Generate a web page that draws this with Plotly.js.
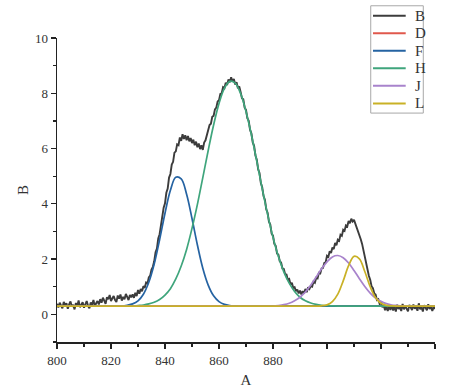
<!DOCTYPE html>
<html>
<head>
<meta charset="utf-8">
<script src="https://cdn.plot.ly/plotly-3.0.1.min.js"></script>
<style>html,body{margin:0;padding:0;background:#fff;}#chart{width:474px;height:389px;}</style>
</head>
<body>
<div id="chart"></div>
<script>
// Measured series B (step 0.5 from 800 to 940)
const bStart = 800, bStep = 0.5;
const seriesB = [
0.38,0.25,0.42,0.30,0.22,0.45,0.33,0.40,0.20,0.36,
0.47,0.28,0.35,0.18,0.41,0.30,0.50,0.26,0.38,0.44,
0.24,0.36,0.48,0.31,0.22,0.43,0.35,0.52,0.29,0.40,
0.48,0.36,0.55,0.42,0.60,0.50,0.38,0.62,0.55,0.70,
0.48,0.58,0.66,0.52,0.45,0.68,0.57,0.72,0.50,0.63,
0.55,0.74,0.60,0.52,0.70,0.62,
0.72,0.60,0.78,0.66,0.88,0.75,0.92,0.84,1.02,0.96,1.15,1.12,1.34,1.40,1.62,1.72,
1.92,2.25,2.38,2.75,2.90,3.28,3.45,3.86,4.02,4.40,4.55,4.95,5.08,5.42,5.52,5.85,
5.90,6.15,6.12,6.40,6.28,6.52,6.35,6.48,6.30,6.45,6.26,6.38,6.20,6.32,6.12,6.25,
6.05,6.18,5.98,6.12,5.95,6.22,6.30,6.48,6.62,6.85,6.90,7.15,7.18,7.42,7.48,7.70,
7.75,7.98,8.00,8.22,8.18,8.38,8.30,8.50,8.40,8.58,8.42,8.52,8.32,8.40,8.18,8.25,
8.05,7.82,7.78,7.48,7.40,7.10,7.00,6.68,6.55,6.22,6.10,5.75,5.60,5.25,5.12,4.75,
4.60,4.28,4.15,3.80,3.68,3.35,3.25,2.92,2.85,2.55,2.48,2.20,2.16,1.92,1.88,1.66,
1.64,1.45,1.44,1.25,1.28,1.08,1.14,0.95,0.98,0.84,0.90,0.76,0.86,0.72,0.84,0.76,
0.92,0.80,0.98,0.92,1.02,1.00,1.18,1.14,1.32,1.30,1.50,1.48,1.66,1.68,1.86,1.88,
2.12,2.08,2.28,2.22,2.42,2.36,2.58,2.50,2.70,2.66,2.88,2.84,3.06,3.02,3.22,3.18,
3.38,3.30,3.46,3.36,3.42,3.28,3.20,3.05,2.90,2.72,2.55,2.30,2.12,1.85,1.62,1.40,
1.25,1.02,0.95,0.76,0.72,0.52,0.55,0.38,0.42,0.26,0.33,0.15,0.28,0.12,0.30,0.16,
0.32,0.14,0.28,0.10,0.35,0.20,0.26,0.12,0.38,0.18,
0.30,0.22,0.11,0.34,0.25,0.16,0.36,0.20,0.28,0.13,
0.40,0.18,0.27,0.10,0.33,0.22,0.15,0.37,0.19,0.30,
0.12,0.26,0.20
];

// Fitted components (step 2 from 800 to 940)
const fStart = 800, fStep = 2;
const seriesD = [
0.30,0.30,0.30,0.30,0.30,0.30,0.30,0.30,0.30,0.30,0.30,0.30,0.30,0.30,0.30,0.30,0.30,0.30,0.30,0.30,
0.30,0.30,0.30,0.30,0.30,0.30,0.30,0.30,0.30,0.30,0.30,0.30,0.30,0.30,0.30,0.30,0.30,0.30,0.30,0.30,
0.30,0.30,0.30,0.30,0.30,0.30,0.30,0.30,0.30,0.30,0.30,0.30,0.30,0.30,0.30,0.30,0.30,0.30,0.30,0.30,
0.30,0.30,0.30,0.30,0.30,0.30,0.30,0.30,0.30,0.30,0.30
];
const seriesF = [
0.30,0.30,0.30,0.30,0.30,0.30,0.30,0.30,0.30,0.30,0.30,0.30,0.30,
0.33,0.38,0.49,0.73,1.16,1.82,2.70,3.66,4.49,4.96,4.90,4.35,3.47,2.51,1.67,1.06,0.67,0.46,0.36,0.32,0.31,
0.30,0.30,0.30,0.30,0.30,0.30,0.30,0.30,0.30,0.30,0.30,0.30,0.30,0.30,0.30,0.30,0.30,0.30,0.30,
0.30,0.30,0.30,0.30,0.30,0.30,0.30,0.30,0.30,0.30,0.30,0.30,0.30,0.30,0.30,0.30,0.30,0.30
];
const seriesH = [
0.30,0.30,0.30,0.30,0.30,0.30,0.30,0.30,0.30,0.30,0.30,0.30,0.30,0.30,0.30,
0.32,0.34,0.38,0.44,0.54,0.70,0.93,1.28,1.75,2.35,3.11,3.98,4.95,5.93,6.85,7.63,8.18,8.43,8.37,7.99,
7.34,6.50,5.54,4.55,3.62,2.79,2.09,1.54,1.13,0.83,0.62,0.49,0.41,0.36,0.33,0.315,0.307,
0.30,0.30,0.30,0.30,0.30,0.30,0.30,0.30,0.30,0.30,0.30,0.30,0.30,0.30,0.30,0.30,0.30,0.30,0.30
];
const seriesJ = [
0.30,0.30,0.30,0.30,0.30,0.30,0.30,0.30,0.30,0.30,0.30,0.30,0.30,0.30,0.30,0.30,0.30,0.30,0.30,0.30,
0.30,0.30,0.30,0.30,0.30,0.30,0.30,0.30,0.30,0.30,0.30,0.30,0.30,0.30,0.30,0.30,0.30,0.30,0.30,0.30,0.30,
0.32,0.35,0.40,0.49,0.62,0.81,1.06,1.35,1.65,1.90,2.08,2.13,2.05,1.86,1.59,1.29,1.01,0.77,0.59,0.47,
0.39,0.34,0.32,0.31,
0.30,0.30,0.30,0.30,0.30,0.30
];
const seriesL = [
0.30,0.30,0.30,0.30,0.30,0.30,0.30,0.30,0.30,0.30,0.30,0.30,0.30,0.30,0.30,0.30,0.30,0.30,0.30,0.30,
0.30,0.30,0.30,0.30,0.30,0.30,0.30,0.30,0.30,0.30,0.30,0.30,0.30,0.30,0.30,0.30,0.30,0.30,0.30,0.30,
0.30,0.30,0.30,0.30,0.30,0.30,0.30,0.30,0.30,
0.31,0.345,0.46,0.73,1.21,1.76,2.10,2.01,1.55,1.00,0.60,0.40,0.325,0.305,
0.30,0.30,0.30,0.30,0.30,0.30,0.30,0.30
];

const xTickVals = [800, 820, 840, 860, 880, 900, 920, 940];
const xTickText = ['800', '820', '840', '860', '880', '', '', ''];
const names = ['B', 'D', 'F', 'H', 'J', 'L'];

function grid(start, step, n) {
  const out = [];
  for (let i = 0; i < n; i++) out.push(start + step * i);
  return out;
}

const xB = grid(bStart, bStep, seriesB.length);
const xF = grid(fStart, fStep, seriesF.length);

const colors = ['#3c3c3c', '#e0584c', '#2563a2', '#3fa57c', '#a883cc', '#c9b126'];
const ys = [seriesB, seriesD, seriesF, seriesH, seriesJ, seriesL];

const traces = ys.map((y, i) => ({
  x: i === 0 ? xB : xF,
  y: y,
  name: names[i],
  type: 'scatter',
  mode: 'lines',
  showlegend: false,
  line: {color: colors[i], width: i === 0 ? 1.9 : 1.7, shape: i === 0 ? 'linear' : 'spline'}
}));

const serif = '"Liberation Serif", "DejaVu Serif", serif';

// Legend box, drawn in paper space (box and sample lines), entries from names/colors
const legBox = {x0: 0.830, x1: 0.969, y0: 0.753, y1: 1.106};
const legLineX = [0.836, 0.9225];
const legTextX = 0.942;
const legRowTop = 1.0734, legRowStep = 0.0577;

const shapes = [{
  type: 'rect', xref: 'paper', yref: 'paper',
  x0: legBox.x0, x1: legBox.x1, y0: legBox.y0, y1: legBox.y1,
  line: {color: '#a8a8a8', width: 1}, fillcolor: '#fff', layer: 'above'
}];
const annotations = [];
names.forEach((n, i) => {
  const yy = legRowTop - i * legRowStep;
  shapes.push({
    type: 'line', xref: 'paper', yref: 'paper',
    x0: legLineX[0], x1: legLineX[1], y0: yy, y1: yy,
    line: {color: colors[i], width: 2}, layer: 'above'
  });
  annotations.push({
    xref: 'paper', yref: 'paper', x: legTextX, y: yy,
    xanchor: 'left', yanchor: 'middle', showarrow: false,
    text: n, font: {family: serif, size: 15, color: '#333'}
  });
});

const layout = {
  width: 474, height: 389,
  margin: {l: 57, r: 39, t: 38, b: 47},
  paper_bgcolor: '#fff', plot_bgcolor: '#fff',
  font: {family: serif, size: 13, color: '#333'},
  showlegend: false,
  shapes: shapes,
  annotations: annotations,
  xaxis: {
    range: [800, 940],
    tickvals: xTickVals, ticktext: xTickText,
    ticks: 'outside', ticklen: 5, tickwidth: 1.3, tickcolor: '#222',
    minor: {ticks: 'outside', ticklen: 3, tickwidth: 1.2, tickcolor: '#222', dtick: 10, tick0: 800},
    showline: true, linecolor: '#222', linewidth: 1.5,
    showgrid: false, zeroline: false,
    ticklabelstandoff: 1,
    tickfont: {family: serif, size: 13, color: '#333'},
    title: {text: 'A', font: {family: serif, size: 15, color: '#333'}, standoff: 7}
  },
  yaxis: {
    range: [-1, 10],
    tick0: 0, dtick: 2,
    ticks: 'outside', ticklen: 5, tickwidth: 1.3, tickcolor: '#222',
    minor: {ticks: 'outside', ticklen: 3, tickwidth: 1.2, tickcolor: '#222', dtick: 1},
    showline: true, linecolor: '#222', linewidth: 1.5,
    showgrid: false, zeroline: false,
    tickfont: {family: serif, size: 13, color: '#333'},
    title: {text: 'B', font: {family: serif, size: 15, color: '#333'}, standoff: 2}
  }
};

Plotly.newPlot('chart', traces, layout, {displayModeBar: false, staticPlot: true});
</script>
</body>
</html>
